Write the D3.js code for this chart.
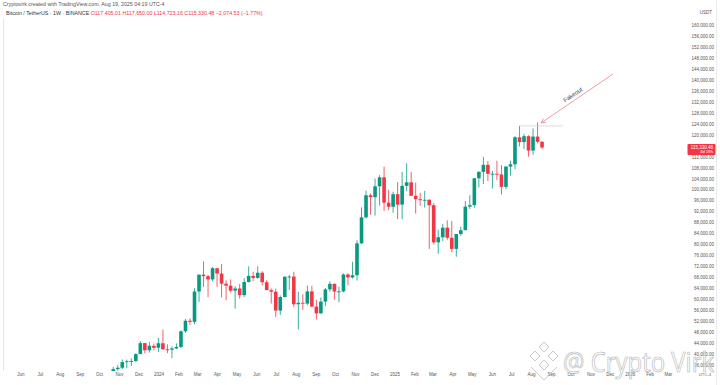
<!DOCTYPE html>
<html>
<head>
<meta charset="utf-8">
<script src="https://cdn.jsdelivr.net/npm/d3@7"></script>
<title>BTCUSDT 1W</title>
<style>
body { margin:0; background:#fff; }
svg { display:block; font-family:"Liberation Sans", Arial, sans-serif; }
</style>
</head>
<body>
<div id="chart"></div>
<script>
// weekly candles, Binance BTCUSDT (first week starts Mon 2023-10-16)
var firstWeek = "2023-10-16";
var open  = [26860,29990,34500,35010,37060,37360,37450,39970,43980,41370,43000,
             42280,43930,41730,41580,42030,42580,48300,52140,51730,62800,68950,68400,67200,71280,69360,65660,64940,63120,63900,61480,66270,68500,67760,69650,66200,63300,62750,55850,60800,68150,68250,58150,58700,58400,62850,57300,54850,59130,63580,65600,62800,62850,69000,67930,68750,80370,89850,97900,97200,101170,104450,95200,93700,
             98300,94500,101330,102620,97700,96460,96100,96250,94270,80730,82600,86100,82400,78350,83770,85170,93750,94300,104100,106450,109000,105700,105730,105500,100960,108380,109200,119050,117300,119450,114200,119300,117400];
var high  = [30380,35280,35980,38000,37980,38420,40250,44700,44000,44380,43800,
             45900,48970,43580,42800,43880,48600,52800,52990,64000,69000,73780,68900,71760,71300,72800,66900,67230,64730,65500,67700,71980,70000,71990,70200,66980,63900,63860,61400,68400,68900,70000,62700,61800,65000,64900,59800,60600,64100,66500,65700,64500,69400,69500,73600,81500,93480,99600,98600,104000,105250,108350,99900,99200,
             102700,106400,109590,106460,102500,98800,99500,96500,95000,85300,87450,88750,88500,83600,86500,95760,97900,104150,106650,111900,110400,106800,110500,108900,108500,110500,119500,123200,120250,119800,122300,124470,117650];
var low   = [26530,29880,33900,34520,34800,35630,37150,39970,40200,40540,41300,
             40750,41500,40280,38550,41880,42250,47700,50520,50900,59000,64500,60770,66500,64500,60660,59600,62400,56550,60200,60750,66100,66600,67500,65000,63380,58400,53500,54260,60600,63400,57100,49000,56100,57800,57200,52550,54600,57500,62700,59800,58900,62500,65100,67500,66800,80200,89400,90800,90500,94150,92200,92500,91500,
             89250,89200,99450,97780,91230,94100,93380,78260,80000,76600,81150,81650,77150,75500,83100,85140,92900,93400,100700,102000,103100,100370,103400,98200,100100,105100,107400,115700,114700,112000,112650,116800,114720];
var close = [29990,34500,35010,37060,37360,37450,39970,43980,41370,43000,42280,
             43930,41730,41580,42030,42580,48300,52140,51730,62800,68950,68400,67200,71280,69360,65660,64940,63120,63900,61480,66270,68500,67760,69650,66200,63300,62750,55850,60800,68150,68250,58150,58700,58400,62850,57300,54850,59130,63580,65600,62800,62850,69000,67930,68750,80370,89850,97900,97200,101170,104450,95200,93700,98300,
             94500,101330,102620,97700,96460,96100,96250,94270,80730,82600,86100,82400,78350,83770,85170,93750,94300,104100,106450,109000,105700,105730,105500,100960,108380,109200,119050,117300,119450,114200,119300,117400,115330];

var priceTicks = d3.range(36000, 160001, 4000);
var monthTicks = d3.utcMonth.range(new Date("2023-06-01"), new Date("2026-03-02"));
var lastPrice = 115330.48;
var fakeoutLevel = 123200;

var header1 = "Cryptovirk created with TradingView.com, Aug 19, 2025 04:19 UTC-4";
var header2a = "Bitcoin / TetherUS \u00b7 1W \u00b7 BINANCE";
var header2b = "O117,405.01 H117,650.00 L114,723.16 C115,330.48 \u22122,074.53 (\u22121.77%)";

var up = "#089981", down = "#f23645";
var w = 720, h = 385;

var svg = d3.select("#chart").append("svg")
    .attr("width", w).attr("height", h);

var x = d3.scaleUtc()
    .domain([new Date("2024-01-01"), new Date("2025-01-01")])
    .range([158.4, 394.4]);
var y = d3.scaleLinear().domain([36000, 160000]).range([365, 25]);

// frame
svg.append("line").attr("x1", 3.5).attr("x2", 3.5).attr("y1", 18).attr("y2", 371)
   .attr("stroke", "#e6e6e6");
svg.append("line").attr("x1", 716.5).attr("x2", 716.5).attr("y1", 0).attr("y2", 385)
   .attr("stroke", "#ececec");

// header
svg.append("text").attr("x", 3).attr("y", 6).attr("font-size", 5.3)
   .attr("fill", "#555").text(header1);
var t2 = svg.append("text").attr("x", 6).attr("y", 14.5).attr("font-size", 5.3);
t2.append("tspan").attr("fill", "#333").text(header2a + "  ");
t2.append("tspan").attr("fill", down).text(header2b);

// candles
var data = close.map(function(c, i) {
  return { t: d3.utcMonday.offset(new Date(firstWeek), i),
           o: open[i], h: high[i], l: low[i], c: c };
});

svg.append("clipPath").attr("id", "pane")
   .append("rect").attr("x", 4).attr("y", 18).attr("width", 682).attr("height", 353);

var pane = svg.append("g").attr("clip-path", "url(#pane)");
var bw = 3.6;

var candle = pane.selectAll("g.c").data(data).enter().append("g").attr("class", "c");
candle.append("line")
   .attr("x1", function(d) { return x(d.t); })
   .attr("x2", function(d) { return x(d.t); })
   .attr("y1", function(d) { return y(d.h); })
   .attr("y2", function(d) { return y(d.l); })
   .attr("stroke", function(d) { return d.c >= d.o ? up : down; })
   .attr("stroke-width", 0.8);
candle.append("rect")
   .attr("x", function(d) { return x(d.t) - bw / 2; })
   .attr("width", bw)
   .attr("y", function(d) { return y(Math.max(d.o, d.c)); })
   .attr("height", function(d) { return Math.max(0.9, Math.abs(y(d.o) - y(d.c))); })
   .attr("fill", function(d) { return d.c >= d.o ? up : down; });

// fakeout annotation
pane.append("line")
   .attr("x1", x(new Date("2025-07-14"))).attr("x2", 563)
   .attr("y1", y(fakeoutLevel)).attr("y2", y(fakeoutLevel))
   .attr("stroke", "#d9cfd0").attr("stroke-width", 0.8);

var a0 = [613, 74], a1 = [541, 123];
svg.append("line").attr("x1", a0[0]).attr("y1", a0[1]).attr("x2", a1[0]).attr("y2", a1[1])
   .attr("stroke", "#e8848c").attr("stroke-width", 0.8);
var ang = Math.atan2(a0[1] - a1[1], a0[0] - a1[0]);
[0.45, -0.45].forEach(function(da) {
  svg.append("line").attr("x1", a1[0]).attr("y1", a1[1])
     .attr("x2", a1[0] + 5 * Math.cos(ang + da)).attr("y2", a1[1] + 5 * Math.sin(ang + da))
     .attr("stroke", "#e8848c").attr("stroke-width", 0.8);
});
svg.append("text").attr("transform", "translate(574,96.5) rotate(-34)")
   .attr("text-anchor", "middle").attr("font-size", 6).attr("fill", "#444")
   .text("Fakeout");

// price axis
var yAxis = svg.append("g").attr("transform", "translate(714,0)")
   .call(d3.axisLeft(y).tickValues(priceTicks).tickSize(0).tickPadding(0)
         .tickFormat(d3.format(",.2f")));
yAxis.select(".domain").remove();
yAxis.selectAll("text").attr("font-size", 4.5).attr("fill", "#555")
   .attr("font-family", "Liberation Sans, Arial, sans-serif");

svg.append("text").attr("x", 712).attr("y", 13.5).attr("text-anchor", "end")
   .attr("font-size", 4.5).attr("fill", "#555").text("USDT");

// last price label
var ly = y(lastPrice);
svg.append("rect").attr("x", 687.5).attr("y", ly - 3.5).attr("width", 28).attr("height", 11)
   .attr("rx", 1).attr("fill", down);
svg.append("text").attr("x", 713).attr("y", ly + 1.3).attr("text-anchor", "end")
   .attr("font-size", 4.5).attr("fill", "#fff").text(d3.format(",.2f")(lastPrice));
svg.append("text").attr("x", 713).attr("y", ly + 6).attr("text-anchor", "end")
   .attr("font-size", 4.2).attr("fill", "#fff").text("4d 19h");

// time axis
var xAxis = svg.append("g").attr("transform", "translate(0,373)")
   .call(d3.axisBottom(x).tickValues(monthTicks).tickSize(0).tickPadding(0)
         .tickFormat(function(d) {
           return d.getUTCMonth() === 0 ? d3.utcFormat("%Y")(d) : d3.utcFormat("%b")(d);
         }));
xAxis.select(".domain").remove();
xAxis.selectAll("text").attr("font-size", 4.5).attr("fill", "#555")
   .attr("font-family", "Liberation Sans, Arial, sans-serif");

// watermark
var wm = svg.append("g").attr("fill", "none").attr("stroke", "#bdbdbd").attr("stroke-width", 0.8);
[[544, 347], [535, 356], [553, 356], [544, 365]].forEach(function(p) {
  wm.append("rect").attr("x", -3.5).attr("y", -3.5).attr("width", 7).attr("height", 7)
    .attr("transform", "translate(" + p[0] + "," + p[1] + ") rotate(45)");
});
wm.append("path").attr("d", "M531,367 L544,380 L557,367");
svg.append("text").attr("x", 563).attr("y", 372)
   .attr("font-family", "Open Sans, Liberation Sans, sans-serif")
   .attr("font-size", 27).attr("fill", "#fff").attr("fill-opacity", 0.5)
   .attr("stroke", "#b8b8b8").attr("stroke-width", 0.7)
   .attr("textLength", 151).attr("lengthAdjust", "spacingAndGlyphs")
   .text("@ Crypto Virk");
svg.append("text").attr("x", 711).attr("y", 375.5).attr("text-anchor", "end")
   .attr("font-size", 4.2).attr("fill", "#666").text("UTC-4");
</script>
</body>
</html>
